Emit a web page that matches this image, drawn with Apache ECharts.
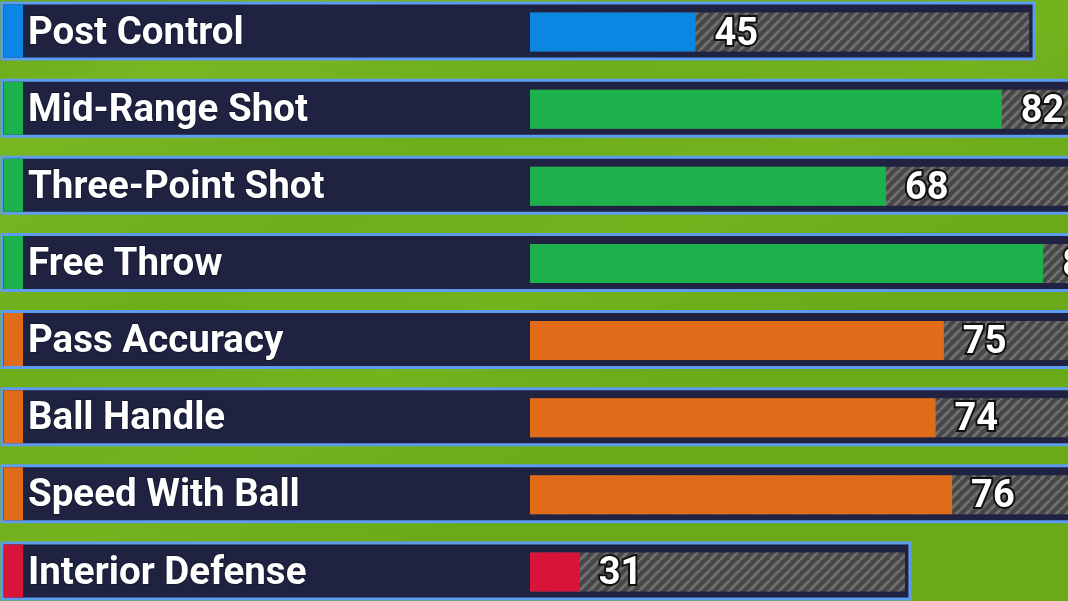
<!DOCTYPE html>
<html>
<head>
<meta charset="utf-8">
<title>Player Ratings</title>
<script src="https://cdn.jsdelivr.net/npm/echarts@6/dist/echarts.min.js"></script>
<style>
  html, body { margin: 0; padding: 0; background: #6aa81a; }
  #main { width: 1068px; height: 601px; }
</style>
</head>
<body>
<div id="main"></div>
<script>
// rating names, top to bottom
const categories = ['Post Control', 'Mid-Range Shot', 'Three-Point Shot', 'Free Throw',
  'Pass Accuracy', 'Ball Handle', 'Speed With Ball', 'Interior Defense'];
// rating values
const ratings = [45, 82, 68, 87, 75, 74, 76, 31];
// where each row's grey track stops (the rows are not all the same length)
const trackMax = [85.3, 99, 99, 99, 99, 99, 99, 70.3];
// skill group of each row
const groups = ['Inside', 'Shooting', 'Shooting', 'Shooting', 'Playmaking', 'Playmaking', 'Playmaking', 'Defense'];
// the rating scale starts at 25
const scaleMin = 25;

const groupColor = {
  Inside: '#0b86e3',
  Shooting: '#1db14b',
  Playmaking: '#e06b19',
  Defense: '#d8143a'
};

// 斜线底纹
function hatchCanvas() {
  const s = 10;
  const c = document.createElement('canvas');
  c.width = s; c.height = s;
  const ctx = c.getContext('2d');
  ctx.fillStyle = '#474747';
  ctx.fillRect(0, 0, s, s);
  ctx.strokeStyle = '#6f6f6f';
  ctx.lineWidth = 3;
  ctx.beginPath();
  for (let k = -1; k <= 1; k++) {
    ctx.moveTo(k * s, s);
    ctx.lineTo(k * s + s, 0);
  }
  ctx.stroke();
  return c;
}
const hatch = hatchCanvas();

const seriesData = ratings.map((v, i) => [v, i, trackMax[i]]);

const myChart = echarts.init(document.getElementById('main'));

const option = {
  backgroundColor: {
    type: 'linear', x: 0, y: 0, x2: 0.3, y2: 1,
    colorStops: [
      { offset: 0, color: '#68a818' },
      { offset: 0.2, color: '#78b622' },
      { offset: 0.5, color: '#6eae1b' },
      { offset: 0.75, color: '#74b21e' },
      { offset: 1, color: '#6aaa18' }
    ]
  },
  animation: false,
  grid: { left: 530, right: 0, top: 0, bottom: 0 },
  xAxis: { type: 'value', min: scaleMin, max: 90, show: false },
  // row index axis: row 0 centred at y=31, rows 77px apart
  yAxis: { type: 'value', min: -0.402, max: 7.389, inverse: true, show: false },
  series: [{
    type: 'custom',
    clip: false,
    data: seriesData,
    encode: { x: 0, y: 1 },
    renderItem: function (params, api) {
      const idx = api.value(1);
      const val = api.value(0);
      const end = api.value(2);
      const p0 = api.coord([scaleMin, idx]);
      const x0 = p0[0], cy = p0[1];
      const xv = api.coord([val, idx])[0];
      const xt = api.coord([end, idx])[0];
      const color = groupColor[groups[idx]];
      const barH = 39;
      return {
        type: 'group',
        children: [
          { // panel
            type: 'rect',
            shape: { x: 2, y: cy - 28, width: xt + 5 - 2, height: 56 },
            style: { fill: '#1f2341', stroke: '#5d9cf0', lineWidth: 3 }
          },
          { // accent strip
            type: 'rect',
            shape: { x: 4, y: cy - 26.5, width: 19, height: 53 },
            style: { fill: color }
          },
          {
            type: 'text',
            style: {
              text: categories[idx], x: 28, y: cy + 3,
              verticalAlign: 'middle', align: 'left',
              font: 'bold 38.5px Roboto', fill: '#ffffff',
              stroke: '#151a30', lineWidth: 2
            }
          },
          { // track
            type: 'rect',
            shape: { x: x0, y: cy - barH / 2 + 1, width: xt - x0, height: barH },
            style: { fill: { image: hatch, repeat: 'repeat' } }
          },
          { // value bar
            type: 'rect',
            shape: { x: x0, y: cy - barH / 2 + 1, width: xv - x0, height: barH },
            style: { fill: color }
          },
          {
            type: 'text',
            style: {
              text: String(val), x: xv + 19, y: cy + 4,
              verticalAlign: 'middle', align: 'left',
              font: 'bold 38px Roboto', fill: '#ffffff',
              stroke: '#111111', lineWidth: 4
            }
          }
        ]
      };
    }
  }]
};

myChart.setOption(option);
</script>
</body>
</html>
